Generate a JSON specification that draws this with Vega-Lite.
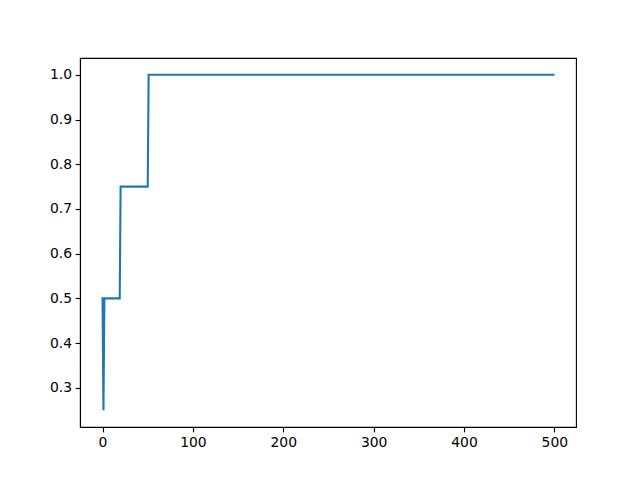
{
  "$schema": "https://vega.github.io/schema/vega-lite/v6.json",
  "width": 496,
  "height": 369,
  "autosize": {"type": "none"},
  "padding": {"left": 80, "top": 58, "right": 64, "bottom": 53},
  "background": "white",
  "config": {
    "view": {"stroke": "black", "strokeWidth": 1.1},
    "axis": {
      "grid": false,
      "domainColor": "black",
      "domainWidth": 1.1,
      "tickColor": "black",
      "tickSize": 4.9,
      "tickWidth": 1.1,
      "labelFont": "DejaVu Sans",
      "labelFontSize": 13.9,
      "labelColor": "black",
      "labelPadding": 3.5,
      "title": null
    }
  },
  "data": {
    "values": [
      {"x": 0, "y": 0.5},
      {"x": 1, "y": 0.25},
      {"x": 2, "y": 0.5},
      {"x": 19, "y": 0.5},
      {"x": 20, "y": 0.75},
      {"x": 50, "y": 0.75},
      {"x": 51, "y": 1.0},
      {"x": 499, "y": 1.0}
    ]
  },
  "mark": {"type": "line", "color": "#1f77b4", "strokeWidth": 2.1, "strokeCap": "square", "clip": true},
  "encoding": {
    "x": {
      "field": "x",
      "type": "quantitative",
      "scale": {"domain": [-24.95, 523.95], "nice": false, "zero": false},
      "axis": {"values": [0, 100, 200, 300, 400, 500], "format": "d", "labelFlush": false}
    },
    "y": {
      "field": "y",
      "type": "quantitative",
      "scale": {"domain": [0.2125, 1.0375], "nice": false, "zero": false},
      "axis": {"values": [0.3, 0.4, 0.5, 0.6, 0.7, 0.8, 0.9, 1.0], "format": ".1f", "labelFlush": false}
    }
  }
}
